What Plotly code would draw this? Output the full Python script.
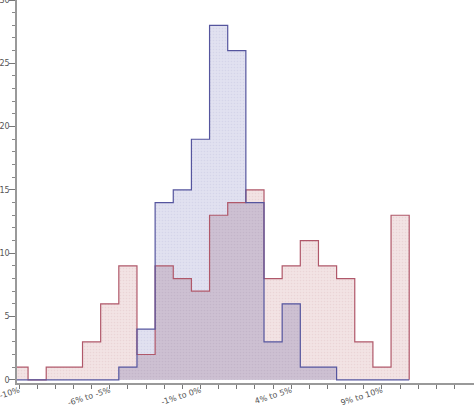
import plotly.graph_objects as go

# bin labels
categories = ["<-10%"] + [f"{i}% to {i + 1}%" for i in range(-10, 10)] + [">10%"]

# counts per bin
red_counts = [1, 0, 1, 1, 3, 6, 9, 2, 9, 8, 7, 13, 14, 15, 8, 9, 11, 9, 8, 3, 1, 13]
blue_counts = [0, 0, 0, 0, 0, 0, 1, 4, 14, 15, 19, 28, 26, 14, 3, 6, 1, 1, 0, 0, 0, 0]
overlap_counts = [min(r, b) for r, b in zip(red_counts, blue_counts)]

y_ticks = [0, 5, 10, 15, 20, 25, 30]


def steps(vals):
    # bin edges around each category index, closed down to zero at the right end
    xs = [i - 0.5 for i in range(len(vals))] + [len(vals) - 0.5, len(vals) - 0.5]
    ys = list(vals) + [vals[-1], 0]
    return xs, ys


fig = go.Figure()

def area(vals, fill, dots):
    xs, ys = steps(vals)
    fig.add_trace(go.Scatter(
        x=xs, y=ys, mode="lines", line=dict(shape="hv", width=0),
        fill="tozeroy", fillcolor=fill,
        fillpattern=dict(shape=".", bgcolor=fill, fgcolor=dots, size=3, solidity=0.25),
        hoverinfo="skip", showlegend=False))

def outline(vals, color):
    xs, ys = steps(vals)
    fig.add_trace(go.Scatter(
        x=xs, y=ys, mode="lines", line=dict(shape="hv", width=1.2, color=color),
        hoverinfo="skip", showlegend=False))

area(red_counts, "#f2e3e4", "#e2c8ca")
area(blue_counts, "#e1e1f0", "#c9c9e2")
area(overlap_counts, "#cdc0d2", "#b9a9bf")
outline(red_counts, "#b0586a")
outline(blue_counts, "#55559e")

tick_idx = list(range(25))
tick_txt = [categories[i] if i % 5 == 0 and i < len(categories) else "" for i in tick_idx]

fig.update_layout(
    width=474, height=408,
    margin=dict(l=17, r=0, t=0, b=25),
    paper_bgcolor="white", plot_bgcolor="white",
    font=dict(family="DejaVu Sans", size=8, color="#555555"),
    xaxis=dict(range=[-0.11, 25.07], tickvals=tick_idx, ticktext=tick_txt,
               tickangle=-18, ticks="outside", ticklen=4, tickcolor="#777777",
               ticklabelstandoff=-6, ticklabeloverflow="allow",
               showline=True, linecolor="#999999", linewidth=1.5,
               showgrid=False, zeroline=False, automargin=False),
    yaxis=dict(range=[-0.25, 30], tickvals=y_ticks, ticks="outside", ticklen=6,
               tickcolor="#777777", ticklabelstandoff=-2, ticklabeloverflow="allow",
               showline=True, linecolor="#999999", linewidth=1.5,
               minor=dict(dtick=1, ticks="outside", ticklen=3, tickcolor="#888888"),
               showgrid=False, zeroline=False, automargin=False),
)

# drop the page's default body margin so the figure sits at the window's corner
fig.write_html("out.html", config={"displayModeBar": False},
               post_script="document.body.style.margin='0';")
